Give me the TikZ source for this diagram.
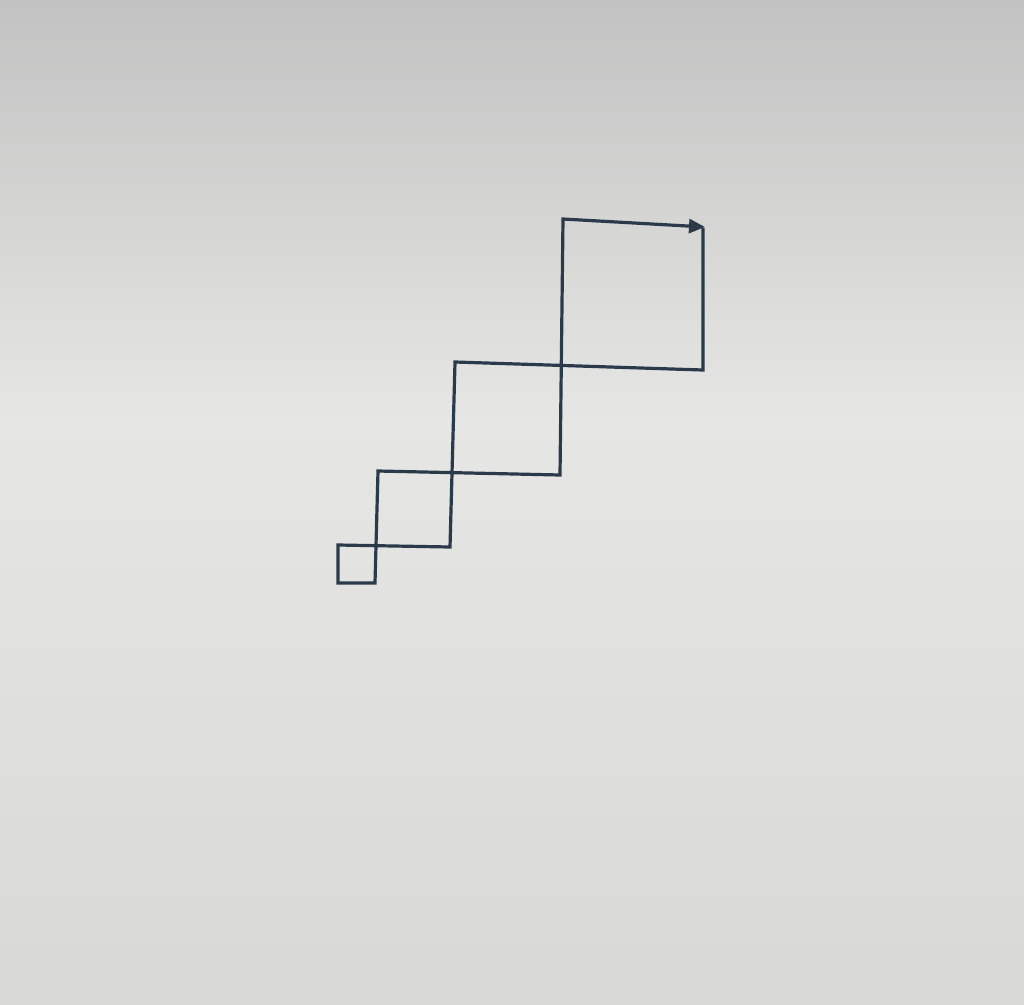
\documentclass[tikz,border=0pt]{standalone}
\usetikzlibrary{arrows.meta}
\definecolor{pen}{HTML}{2B3A4A}
\definecolor{bgtop}{HTML}{C2C2C2}
\definecolor{bgmid}{HTML}{E6E6E4}
\definecolor{bgbot}{HTML}{D8D8D6}
\tikzset{spiral/.style={draw=pen,line width=3.2pt,line join=miter,-{Triangle[length=16pt,width=14pt]}}}
\begin{document}
\begin{tikzpicture}[x=1pt,y=-1pt]
\useasboundingbox (0,0) rectangle (1024,1004);
\shade[top color=bgtop,bottom color=bgmid] (0,0) rectangle (1024,420);
\shade[top color=bgmid,bottom color=bgbot] (0,420) rectangle (1024,1004);
\coordinate (p0) at (703,228);
\coordinate (p1) at (703,370);
\coordinate (p2) at (455,362);
\coordinate (p3) at (450,547);
\coordinate (p4) at (338,545);
\coordinate (p5) at (338,583);
\coordinate (p6) at (375,583);
\coordinate (p7) at (378,471);
\coordinate (p8) at (560,475);
\coordinate (p9) at (563,219);
\coordinate (p10) at (705,227);
\draw[spiral] (p0) -- (p1) -- (p2) -- (p3) -- (p4) -- (p5) -- (p6) -- (p7) -- (p8) -- (p9) -- (p10);
\end{tikzpicture}
\end{document}
